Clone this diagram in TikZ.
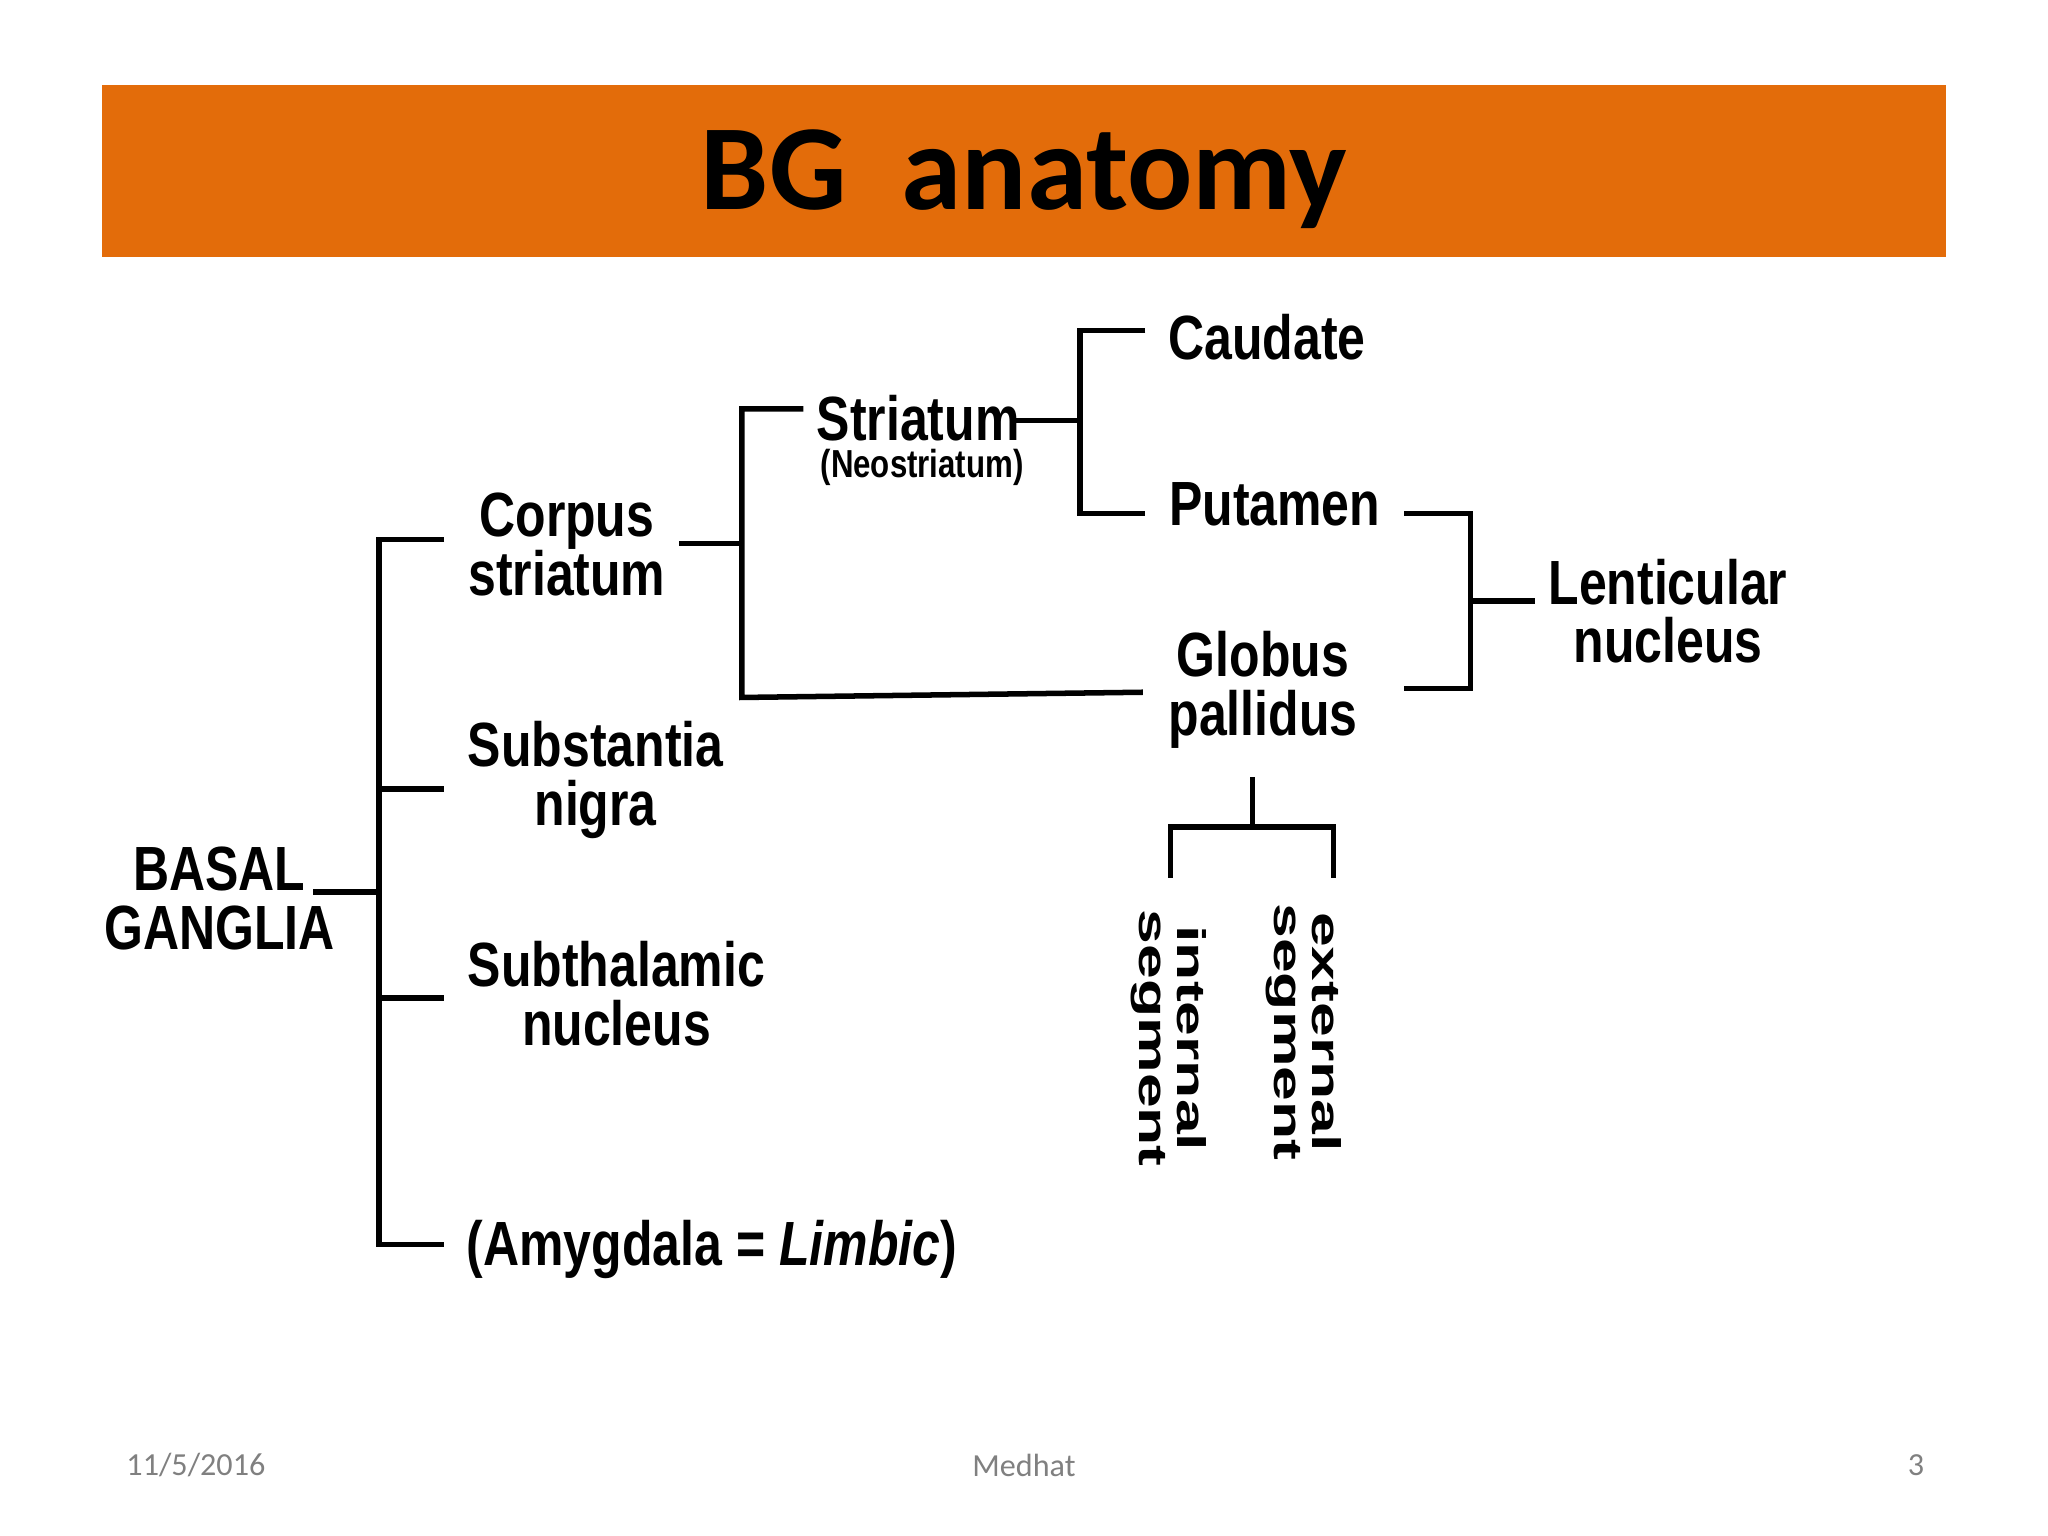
\documentclass[tikz,border=0pt]{standalone}
\usepackage{fontspec}
\setmainfont{Liberation Sans}
\newfontfamily\calib{Carlito}
\definecolor{bandorange}{HTML}{E36C0A}
\tikzset{
  lbl/.style={font=\fontsize{13.6}{12.8}\selectfont\bfseries, align=center, inner sep=0pt, xscale=0.8},
  small/.style={font=\fontsize{8.5}{10}\selectfont\bfseries, inner sep=0pt, xscale=0.8},
  foot/.style={font=\calib\fontsize{7}{8}\selectfont, text=gray},
  br/.style={line width=1.2pt}
}
\begin{document}
\begin{tikzpicture}[x=0.01cm,y=-0.01cm]
\useasboundingbox (0,0) rectangle (1568,1176);
\fill[bandorange] (78,65) rectangle (1490,197);
\node[font=\calib\bfseries\fontsize{26.5}{28}\selectfont] (title) at (784,137) {BG\ \ anatomy};
% labels
\node[lbl] (bg) at (168,688) {BASAL\\GANGLIA};
\node[lbl] (cs) at (434,417) {Corpus\\striatum};
\node[lbl] (sn) at (456,597) {Substantia\\nigra};
\node[lbl] (stn) at (472,761) {Subthalamic\\nucleus};
\node[lbl] (amy) at (545,957) {(Amygdala = \textit{Limbic})};
\node[lbl] (str) at (703,320) {Striatum};
\node[small] (neo) at (706,358) {(Neostriatum)};
\node[lbl] (cau) at (970,258) {Caudate};
\node[lbl] (put) at (976,386) {Putamen};
\node[lbl] (gp) at (967,528) {Globus\\pallidus};
\node[lbl] (len) at (1277,468) {Lenticular\\nucleus};
\node[lbl, rotate=-90, xscale=1, yscale=0.8] (int) at (895,795) {internal\\segment};
\node[lbl, rotate=-90, xscale=1, yscale=0.8] (ext) at (998,790) {external\\segment};
% brackets
\draw[br] (240,683) -- (290,683);
\draw[br] (340,413) -| (290,953) -- (340,953);
\draw[br] (290,604) -- (340,604);
\draw[br] (290,764) -- (340,764);
\draw[br] (520,416) -- (568,416);
\draw[br] (615,313) -| (568,534) -- (875,530);
\draw[br] (778,322) -- (827,322);
\draw[br] (877,253) -| (827,393) -- (877,393);
\draw[br] (1075,393) -| (1126,527) -- (1075,527);
\draw[br] (1126,460) -- (1175,460);
\draw[br] (959,595) -- (959,633);
\draw[br] (896,672) |- (1021,633) -- (1021,672);
% footer
\node[foot] (date) at (150,1122) {11/5/2016};
\node[foot] (auth) at (784,1122) {Medhat};
\node[foot] (page) at (1467,1122) {3};
\end{tikzpicture}
\end{document}
